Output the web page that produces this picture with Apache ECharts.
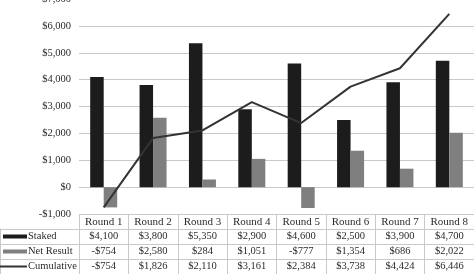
<!DOCTYPE html>
<html lang="en">
<head>
    <meta charset="UTF-8">
    <title>Staked / Net Result / Cumulative</title>
    <script src="https://cdn.jsdelivr.net/npm/echarts@6/dist/echarts.min.js"></script>
    <style>
        html, body {
            margin: 0;
            padding: 0;
            background: #fff;
        }

        #chart {
            width: 474px;
            height: 274px;
        }
    </style>
</head>
<body>
<div id="chart"></div>
<script type="text/javascript">
    var rounds = ['Round 1', 'Round 2', 'Round 3', 'Round 4', 'Round 5', 'Round 6', 'Round 7', 'Round 8'];
    var rowNames = ['Staked', 'Net Result', 'Cumulative'];
    var staked = [4100, 3800, 5350, 2900, 4600, 2500, 3900, 4700];
    var netResult = [-754, 2580, 284, 1051, -777, 1354, 686, 2022];
    var cumulative = [-754, 1826, 2110, 3161, 2384, 3738, 4424, 6446];
    var yTicks = [-1000, 0, 1000, 2000, 3000, 4000, 5000, 6000, 7000];

    var serif = '"Liberation Serif", "DejaVu Serif", serif';
    var textColor = '#2b2b2b';
    var borderColor = '#c9c9c9';

    // $4,100 / -$754
    function money(v) {
        var s = Math.abs(v).toString().replace(/\B(?=(\d{3})+(?!\d))/g, ',');
        return (v < 0 ? '-$' : '$') + s;
    }

    // one entry per table cell: [column, row]
    var tableRows = [staked, netResult, cumulative];
    var cells = [];
    var cellText = [];
    for (var r = 0; r < tableRows.length; r++) {
        for (var i = 0; i < rounds.length; i++) {
            cells.push([i, r]);
            cellText.push(money(tableRows[r][i]));
        }
    }

    var myChart = echarts.init(document.getElementById('chart'), null, {renderer: 'canvas'});

    var option = {
        animation: false,
        textStyle: {fontFamily: serif},
        grid: [
            {left: 79, right: 0, top: -1, bottom: 60, outerBoundsMode: 'none', containLabel: false},
            {left: 79, right: 0, top: 229, bottom: 0, outerBoundsMode: 'none', containLabel: false}
        ],
        xAxis: [
            {
                type: 'category',
                gridIndex: 0,
                data: rounds,
                axisLine: {show: false},
                axisTick: {show: false},
                axisLabel: {show: false}
            },
            {
                //表头 Round 1..8
                type: 'category',
                gridIndex: 1,
                position: 'top',
                data: rounds,
                axisLine: {show: true, lineStyle: {color: borderColor}},
                axisTick: {show: true, interval: 0, length: 15, lineStyle: {color: borderColor}},
                axisLabel: {
                    interval: 0,
                    margin: 7,
                    verticalAlign: 'middle',
                    color: textColor,
                    fontFamily: serif,
                    fontSize: 11
                },
                splitLine: {show: true, interval: 0, lineStyle: {color: borderColor}}
            }
        ],
        yAxis: [
            {
                type: 'value',
                gridIndex: 0,
                min: yTicks[0],
                max: yTicks[yTicks.length - 1],
                interval: 1000,
                axisLine: {show: false},
                axisTick: {show: false},
                axisLabel: {
                    margin: 8,
                    color: textColor,
                    fontFamily: serif,
                    fontSize: 10.5,
                    formatter: function (v) {
                        return money(v);
                    }
                },
                splitLine: {lineStyle: {color: borderColor, width: 1}}
            },
            {
                //左侧图例列
                type: 'category',
                gridIndex: 1,
                inverse: true,
                data: rowNames,
                axisLine: {show: true, lineStyle: {color: borderColor}},
                axisTick: {show: true, interval: 0, length: 79, lineStyle: {color: borderColor}},
                axisLabel: {
                    interval: 0,
                    margin: 79,
                    align: 'left',
                    color: textColor,
                    fontFamily: serif,
                    fontSize: 10.5,
                    formatter: function (v, idx) {
                        if (idx === 2) {
                            return '{s2|}{t|' + v + '}';
                        }
                        return '{p|}{s' + idx + '|}{t|' + v + '}';
                    },
                    rich: {
                        p: {width: 3, height: 4, verticalAlign: 'middle'},
                        s0: {width: 24, height: 4, backgroundColor: '#1c1c1c', verticalAlign: 'middle'},
                        s1: {width: 24, height: 4, backgroundColor: '#7f7f7f', verticalAlign: 'middle'},
                        s2: {width: 27, height: 2, backgroundColor: '#333333', verticalAlign: 'middle'},
                        t: {
                            padding: [0, 0, 0, 1],
                            color: textColor,
                            fontFamily: serif,
                            fontSize: 10.5,
                            verticalAlign: 'middle'
                        }
                    }
                },
                splitLine: {show: true, interval: 0, lineStyle: {color: borderColor}}
            },
            {
                //图例列的外边框
                type: 'category',
                gridIndex: 1,
                position: 'left',
                offset: 79,
                data: rowNames,
                axisLine: {show: true, lineStyle: {color: borderColor}},
                axisTick: {show: false},
                axisLabel: {show: false}
            }
        ],
        series: [
            {
                name: 'Staked',
                type: 'bar',
                xAxisIndex: 0,
                yAxisIndex: 0,
                barWidth: 13.5,
                barGap: '0%',
                itemStyle: {color: '#1c1c1c'},
                data: staked
            },
            {
                name: 'Net Result',
                type: 'bar',
                xAxisIndex: 0,
                yAxisIndex: 0,
                barWidth: 13.5,
                barGap: '0%',
                itemStyle: {color: '#7f7f7f'},
                data: netResult
            },
            {
                name: 'Cumulative',
                type: 'line',
                xAxisIndex: 0,
                yAxisIndex: 0,
                symbol: 'none',
                z: 5,
                lineStyle: {color: '#333333', width: 2},
                data: cumulative
            },
            {
                //数据表的单元格文字
                type: 'custom',
                xAxisIndex: 1,
                yAxisIndex: 1,
                data: cells,
                renderItem: function (params, api) {
                    var p = api.coord([api.value(0), api.value(1)]);
                    return {
                        type: 'text',
                        x: p[0],
                        y: p[1],
                        style: {
                            text: cellText[params.dataIndex],
                            fill: textColor,
                            font: '10.5px ' + serif,
                            align: 'center',
                            verticalAlign: 'middle'
                        }
                    };
                }
            }
        ]
    };
    myChart.setOption(option);
</script>
</body>
</html>
